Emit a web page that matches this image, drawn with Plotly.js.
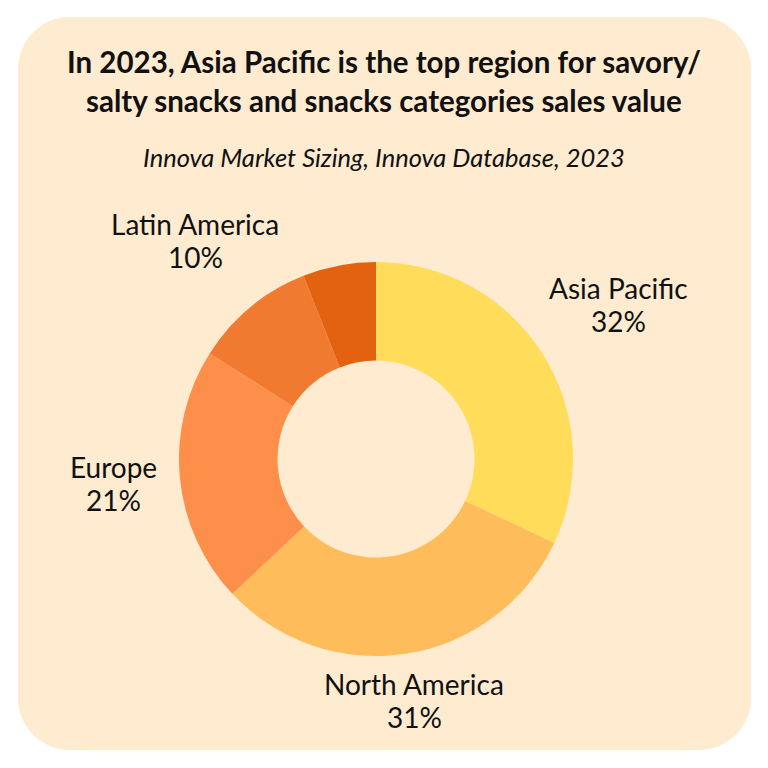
<!DOCTYPE html>
<html>
<head>
<meta charset="utf-8">
<script src="https://cdn.plot.ly/plotly-3.0.1.min.js"></script>
<style>html,body{margin:0;padding:0;background:#fff;}#chart{width:768px;height:768px;}</style>
</head>
<body>
<div id="chart"></div>
<script>
// ---- data ----
const regions = ["Asia Pacific", "North America", "Europe", "Latin America", "Middle East & Africa"];
const shares = [32, 31, 21, 10, 6];
const sliceColors = ["#FFDC5A", "#FEBD5A", "#FE8F4B", "#F07A2F", "#E3620F"];
const titleLines = ["In 2023, Asia Pacific is the top region for savory/", "salty snacks and snacks categories sales value"];
const subtitle = "Innova Market Sizing, Innova Database, 2023";

// ---- layout geometry (pixels) ----
const W = 768, H = 768;
const cxPx = 376, cyPx = 459, rPx = 197;
const labelDist = [1.46, 1.24, 1.34, 1.44, 1.4];
const px = x => x / W, py = y => 1 - y / H;

// rounded background card
const x0 = 18, x1 = 751, y0 = 17, y1 = 750, rad = 52, k = 0.45;
const P = (x, y) => px(x) + "," + py(y);
const path = "M" + P(x0 + rad, y0) + " L" + P(x1 - rad, y0) +
  " C" + P(x1 - rad * k, y0) + " " + P(x1, y0 + rad * k) + " " + P(x1, y0 + rad) +
  " L" + P(x1, y1 - rad) +
  " C" + P(x1, y1 - rad * k) + " " + P(x1 - rad * k, y1) + " " + P(x1 - rad, y1) +
  " L" + P(x0 + rad, y1) +
  " C" + P(x0 + rad * k, y1) + " " + P(x0, y1 - rad * k) + " " + P(x0, y1 - rad) +
  " L" + P(x0, y0 + rad) +
  " C" + P(x0, y0 + rad * k) + " " + P(x0 + rad * k, y0) + " " + P(x0 + rad, y0) + " Z";

const total = shares.reduce((a, b) => a + b, 0);
const annotations = [];
const labelFont = {family: "Lato", size: 28, color: "#111111"};
let cum = 0;
shares.forEach((v, i) => {
  const mid = (cum + v / 2) / total * 2 * Math.PI;
  cum += v;
  if (v < 10) return;
  const d = labelDist[i] * rPx;
  const lx = cxPx + d * Math.sin(mid), ly = cyPx - d * Math.cos(mid);
  annotations.push({
    xref: "paper", yref: "paper", x: px(lx), y: py(ly - 16.5), xanchor: "center", yanchor: "middle",
    text: regions[i], showarrow: false, font: labelFont
  });
  annotations.push({
    xref: "paper", yref: "paper", x: px(lx), y: py(ly + 16.5), xanchor: "center", yanchor: "middle",
    text: Math.round(v / total * 100) + "%", showarrow: false, font: labelFont
  });
});
titleLines.forEach((t, i) => {
  annotations.push({
    xref: "paper", yref: "paper", x: 0.5, y: py(62 + 39 * i), xanchor: "center", yanchor: "middle",
    text: "<b>" + t + "</b>", showarrow: false,
    font: {family: "Lato", size: 29.5, color: "#111111"}
  });
});
annotations.push({
  xref: "paper", yref: "paper", x: 0.5, y: py(157), xanchor: "center", yanchor: "middle",
  text: "<i>" + subtitle + "</i>", showarrow: false,
  font: {family: "Lato", size: 25.5, color: "#111111"}
});

const trace = {
  type: "pie",
  labels: regions,
  values: shares,
  hole: 0.5,
  sort: false,
  direction: "clockwise",
  rotation: 0,
  marker: {colors: sliceColors, line: {width: 0}},
  textinfo: "none",
  hoverinfo: "label+percent",
  showlegend: false,
  domain: {x: [px(cxPx - rPx), px(cxPx + rPx)], y: [py(cyPx + rPx), py(cyPx - rPx)]}
};

const layout = {
  width: W, height: H,
  margin: {l: 0, r: 0, t: 0, b: 0},
  paper_bgcolor: "#ffffff",
  showlegend: false,
  shapes: [{type: "path", xref: "paper", yref: "paper", path: path, fillcolor: "#FEEBD0", line: {width: 0}, layer: "below"}],
  annotations: annotations
};

Plotly.newPlot("chart", [trace], layout, {displayModeBar: false, staticPlot: true});
</script>
</body>
</html>
